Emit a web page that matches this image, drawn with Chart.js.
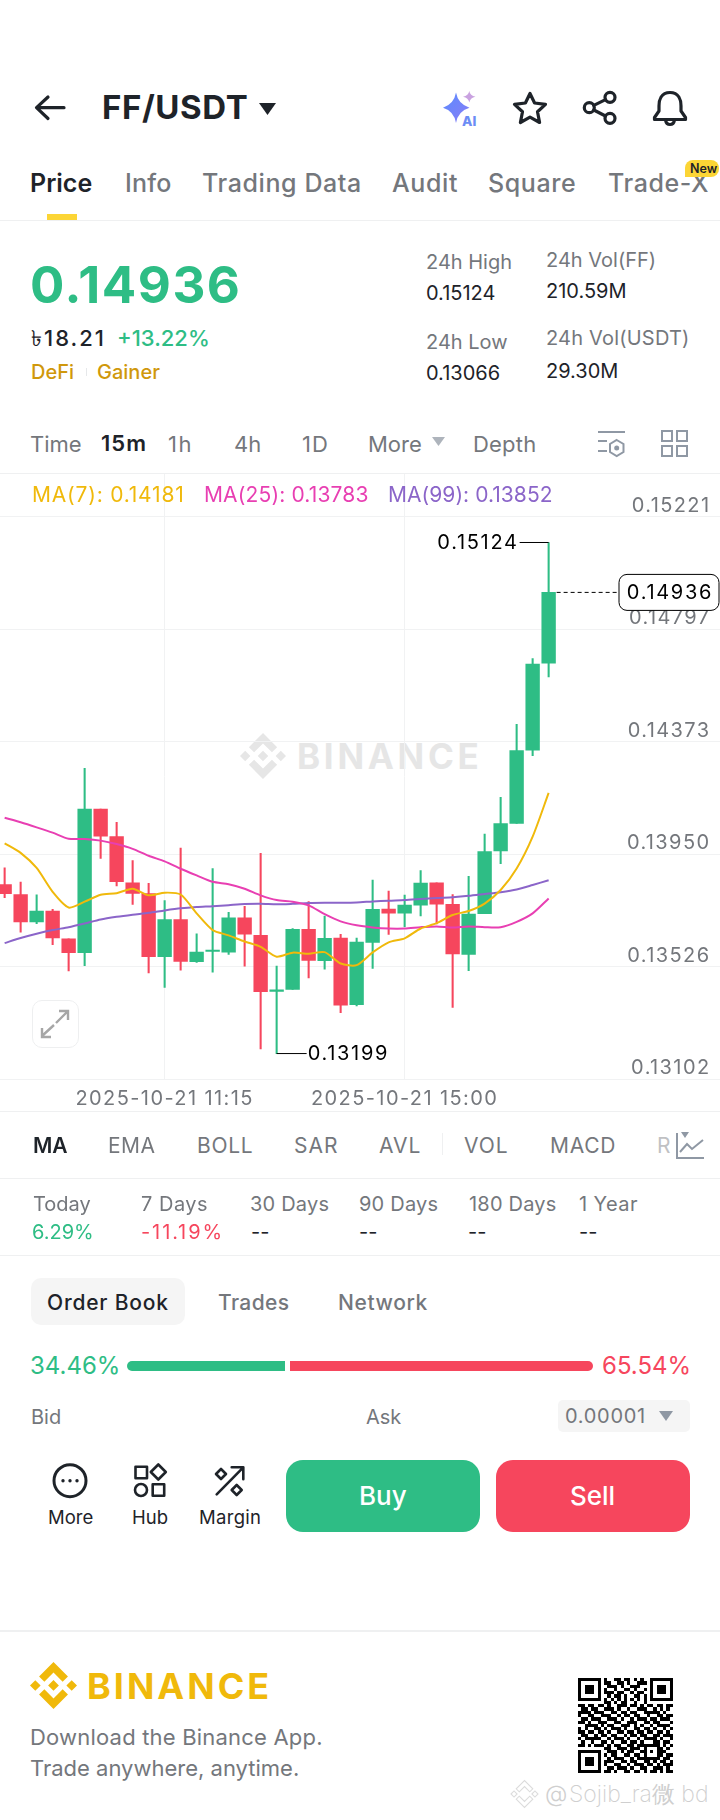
<!DOCTYPE html>
<html>
<head>
<meta charset="utf-8">
<title>FF/USDT</title>
<script src="https://cdn.jsdelivr.net/npm/chart.js@4/dist/chart.umd.min.js"></script>
<style>
    html, body { margin: 0; padding: 0; background: #fff; }
    body { position: relative; width: 720px; height: 1820px; overflow: hidden; font-family: Inter, "Noto Sans", "DejaVu Sans", sans-serif; color: #1e2329; }
    .t { position: absolute; white-space: nowrap; line-height: 1; transform: translateY(-50%); }
    .g { color: #74777c; }
    .up { color: #2ebd85; }
    .dn { color: #f6465d; }
    .hr { position: absolute; left: 0; width: 720px; height: 1px; background: #eff0f1; }
    svg { position: absolute; overflow: visible; }
    .box { position: absolute; }
    #chart { position: absolute; left: 0; top: 474px; }
</style>
</head>
<body>

<!-- header -->
<svg style="left:0;top:0" width="720" height="240" fill="none" stroke="#1e2329" stroke-width="3.2" stroke-linecap="round" stroke-linejoin="round">
    <path d="M64 107.7H37M48 97L36.5 107.7L48 118.5"/>
    <path d="M259 103H276L267.5 115Z" fill="#1e2329" stroke="none"/>
    <defs><linearGradient id="ai" x1="0" y1="0" x2="1" y2="1"><stop offset="0" stop-color="#5a8cff"/><stop offset="1" stop-color="#8a7cf5"/></linearGradient></defs>
    <path d="M456 92.5Q458 104 469.5 107.7Q458 111 456 123Q454 111 443 107.7Q454 104 456 92.5Z" fill="url(#ai)" stroke="none"/>
    <path d="M469.3 91Q470 95.5 475.5 96.7Q470 98 469.3 102.5Q468.5 98 463 96.7Q468.5 95.5 469.3 91Z" fill="#c9a2e0" stroke="none"/>
    <text x="462" y="126" font-size="13.5" font-weight="800" fill="#6c8df5" stroke="none" font-family="Inter">AI</text>
    <path d="M530 93.5L534.6 103L545.5 104.4L537.5 111.7L539.6 122.5L530 117.2L520.4 122.5L522.5 111.7L514.5 104.4L525.4 103Z"/>
    <circle cx="589.3" cy="107.7" r="5"/><circle cx="610" cy="97.3" r="5"/><circle cx="610" cy="118.3" r="5"/>
    <path d="M593.8 105.4L605.5 99.6M593.8 110L605.5 116"/>
    <path d="M670 92.5C661 92.5 659 100 659 106V111L654.5 117.5V119.5H685.5V117.5L681 111V106C681 100 679 92.5 670 92.5Z"/>
    <path d="M665.5 120C666 123 668 124.5 670 124.5C672 124.5 674 123 674.5 120"/>
</svg>
<span class="t" style="left:102px;top:107px;font-size:33px;font-weight:700;letter-spacing:.6px">FF/USDT</span>

<span class="t" style="left:30px;top:183px;font-size:25px;font-weight:600">Price</span>
<span class="t g" style="left:125px;top:183px;font-size:25px;font-weight:500;letter-spacing:.2px">Info</span>
<span class="t g" style="left:202px;top:183px;font-size:25px;font-weight:500;letter-spacing:.6px">Trading Data</span>
<span class="t g" style="left:392px;top:183px;font-size:25px;font-weight:500;letter-spacing:.6px">Audit</span>
<span class="t g" style="left:488px;top:183px;font-size:25px;font-weight:500;letter-spacing:.6px">Square</span>
<span class="t g" style="left:608px;top:183px;font-size:25px;font-weight:500;letter-spacing:.6px">Trade-X</span>
<div class="box" style="left:685px;top:160px;width:34px;height:17px;border-radius:8px 8px 8px 0;background:#fcd535"></div>
<span class="t" style="left:690px;top:168.5px;font-size:12.5px;font-weight:600">New</span>
<div class="box" style="left:47px;top:214px;width:30px;height:6px;background:#fcd535"></div>
<div class="hr" style="top:220px"></div>

<!-- price block -->
<span class="t up" style="left:30px;top:283.5px;font-size:51px;font-weight:700;letter-spacing:1.5px">0.14936</span>
<span class="t" style="left:31px;top:338px;font-size:22px;font-weight:500;letter-spacing:2px">৳18.21</span>
<span class="t up" style="left:117px;top:338px;font-size:22px;font-weight:500">+13.22%</span>
<span class="t" style="left:31px;top:372px;font-size:20px;font-weight:500;color:#d0980b">DeFi</span>
<div class="box" style="left:86px;top:368px;width:1px;height:8px;background:#e6e8ea"></div>
<span class="t" style="left:97px;top:372px;font-size:20px;font-weight:500;color:#d0980b">Gainer</span>
<span class="t g" style="left:426px;top:262px;font-size:20px">24h High</span>
<span class="t" style="left:426px;top:293px;font-size:20px">0.15124</span>
<span class="t g" style="left:546px;top:260px;font-size:20px">24h Vol(FF)</span>
<span class="t" style="left:546px;top:291px;font-size:20px">210.59M</span>
<span class="t g" style="left:426px;top:342px;font-size:20px">24h Low</span>
<span class="t" style="left:426px;top:373px;font-size:20px">0.13066</span>
<span class="t g" style="left:546px;top:338px;font-size:20px;letter-spacing:.2px">24h Vol(USDT)</span>
<span class="t" style="left:546px;top:371px;font-size:20px">29.30M</span>

<!-- interval row -->
<span class="t g" style="left:30px;top:444px;font-size:22px">Time</span>
<span class="t" style="left:101px;top:443px;font-size:22px;font-weight:600;letter-spacing:1px">15m</span>
<span class="t g" style="left:168px;top:444px;font-size:22px;letter-spacing:1.5px">1h</span>
<span class="t g" style="left:234px;top:444px;font-size:22px">4h</span>
<span class="t g" style="left:302px;top:444px;font-size:22px;letter-spacing:1px">1D</span>
<span class="t g" style="left:368px;top:444px;font-size:22px">More</span>
<span class="t g" style="left:473px;top:444px;font-size:22px;letter-spacing:.2px">Depth</span>
<svg style="left:0;top:420px" width="720" height="50" fill="none" stroke="#8f98a4" stroke-width="2">
    <path d="M432 17H445L438.5 26Z" fill="#aeb4bc" stroke="none"/>
    <path d="M598 12H625M598 21H607M598 31H607"/>
    <path d="M616.7 20L623.5 24V32L616.7 36L610 32V24Z"/>
    <circle cx="616.7" cy="28" r="1.5" fill="#8f98a4"/>
    <rect x="662" y="11" width="10" height="10"/><rect x="677" y="11" width="10" height="10"/>
    <rect x="662" y="26" width="10" height="10"/><rect x="677" y="26" width="10" height="10"/>
</svg>
<div class="hr" style="top:473px"></div>

<!-- chart watermark, under the transparent canvas -->
<svg style="left:240px;top:733px" width="46" height="46" viewBox="0 0 126.61 126.61" fill="#e6e6e6">
    <path d="M38.73 53.2l24.59-24.58 24.6 24.6 14.3-14.31L63.32 0 24.43 38.9zM0 63.31l14.3-14.31 14.31 14.31-14.31 14.3zM38.73 73.41l24.59 24.59 24.6-24.6 14.31 14.29-38.9 38.91-38.9-38.88-.02-.02zM98 63.31l14.3-14.3 14.31 14.3-14.31 14.3z"/>
    <path d="M77.83 63.3L63.32 48.78 52.59 59.51l-1.24 1.23-2.54 2.54 14.51 14.5 14.51-14.47z"/>
</svg>
<span class="t" style="left:297px;top:756px;font-size:35px;font-weight:700;color:#e6e6e6;letter-spacing:3.7px">BINANCE</span>

<canvas id="chart" width="720" height="638"></canvas>

<span class="t" style="left:32px;top:494px;font-size:21px;color:#f0b90b;letter-spacing:.8px">MA(7): 0.14181</span>
<span class="t" style="left:204px;top:494px;font-size:21px;color:#e83fb2;letter-spacing:.15px">MA(25): 0.13783</span>
<span class="t" style="left:388px;top:494px;font-size:21px;color:#8b65c9;letter-spacing:.05px">MA(99): 0.13852</span>

<div class="box" style="left:32px;top:1000px;width:45px;height:46px;border:1.5px solid #eeeff0;border-radius:10px;background:#fff"></div>
<svg style="left:0;top:1000px" width="100" height="50" fill="none" stroke="#a6a6a6" stroke-width="2.4">
    <path d="M56 23L68 11M59 11H68V20M42 36L54 25M42 28V37H51"/>
</svg>

<div class="hr" style="top:1111px"></div>

<!-- indicator row -->
<span class="t" style="left:33px;top:1145px;font-size:21px;font-weight:600">MA</span>
<span class="t g" style="left:108px;top:1145px;font-size:21px;letter-spacing:.5px">EMA</span>
<span class="t g" style="left:197px;top:1145px;font-size:21px;letter-spacing:.7px">BOLL</span>
<span class="t g" style="left:294px;top:1145px;font-size:21px;letter-spacing:1px">SAR</span>
<span class="t g" style="left:379px;top:1145px;font-size:21px;letter-spacing:1px">AVL</span>
<div class="box" style="left:442px;top:1133px;width:1px;height:22px;background:#eff0f1"></div>
<span class="t g" style="left:464px;top:1145px;font-size:21px;letter-spacing:1px">VOL</span>
<span class="t g" style="left:550px;top:1145px;font-size:21px;letter-spacing:.7px">MACD</span>
<span class="t g" style="left:657px;top:1145px;font-size:21px;opacity:.45">R</span>
<svg style="left:0;top:1120px" width="720" height="50" fill="none" stroke="#8f98a4" stroke-width="2">
    <path d="M677 13V38H704M680 32L687 24L692 29L703 20"/>
    <path d="M681 12H689L685 18Z" fill="#8f98a4" stroke="none"/>
</svg>
<div class="hr" style="top:1178px"></div>

<!-- period returns -->
<span class="t g" style="left:33px;top:1204px;font-size:20px">Today</span>
<span class="t g" style="left:141px;top:1204px;font-size:20px;letter-spacing:.5px">7 Days</span>
<span class="t g" style="left:250px;top:1204px;font-size:20px;letter-spacing:.2px">30 Days</span>
<span class="t g" style="left:359px;top:1204px;font-size:20px;letter-spacing:.2px">90 Days</span>
<span class="t g" style="left:469px;top:1204px;font-size:20px;letter-spacing:.2px">180 Days</span>
<span class="t g" style="left:579px;top:1204px;font-size:20px;letter-spacing:.4px">1 Year</span>
<span class="t up" style="left:32px;top:1232px;font-size:20px">6.29%</span>
<span class="t dn" style="left:141px;top:1232px;font-size:20px;letter-spacing:1.9px">-11.19%</span>
<span class="t" style="left:251px;top:1232px;font-size:20px">--</span>
<span class="t" style="left:359px;top:1232px;font-size:20px">--</span>
<span class="t" style="left:468px;top:1232px;font-size:20px">--</span>
<span class="t" style="left:579px;top:1232px;font-size:20px">--</span>
<div class="hr" style="top:1255px"></div>

<!-- order book -->
<div class="box" style="left:31px;top:1278px;width:154px;height:47px;border-radius:10px;background:#f5f5f5"></div>
<span class="t" style="left:47px;top:1302px;font-size:21px;font-weight:500;letter-spacing:.8px">Order Book</span>
<span class="t g" style="left:218px;top:1302px;font-size:21px;font-weight:500;letter-spacing:.4px">Trades</span>
<span class="t g" style="left:338px;top:1302px;font-size:21px;font-weight:500;letter-spacing:.6px">Network</span>
<span class="t up" style="left:30px;top:1366px;font-size:24px">34.46%</span>
<div class="box" style="left:127px;top:1361px;width:158px;height:10px;background:#2ebd85;border-radius:5px 0 0 5px"></div>
<div class="box" style="left:290px;top:1361px;width:303px;height:10px;background:#f6465d;border-radius:0 5px 5px 0"></div>
<span class="t dn" style="left:602px;top:1366px;font-size:24px">65.54%</span>
<span class="t g" style="left:31px;top:1417px;font-size:20px">Bid</span>
<span class="t g" style="left:366px;top:1417px;font-size:20px">Ask</span>
<div class="box" style="left:558px;top:1400px;width:132px;height:32px;border-radius:5px;background:#f5f5f5"></div>
<span class="t g" style="left:565px;top:1416px;font-size:20px;letter-spacing:.7px">0.00001</span>
<svg style="left:0;top:1400px" width="720" height="40"><path d="M659 11H673L666 21Z" fill="#8f98a4"/></svg>

<!-- bottom actions -->
<svg style="left:0;top:1450px" width="280" height="60" fill="none" stroke="#1e2329" stroke-width="3" stroke-linejoin="round" stroke-linecap="round">
    <circle cx="70" cy="30.7" r="16"/>
    <path d="M63 30.7h.01M70 30.7h.01M77 30.7h.01" stroke-width="3.4"/>
    <rect x="135.5" y="16.7" width="11.5" height="11.5" stroke-width="2.6"/>
    <path d="M158.3 14.5L165.8 22L158.3 29.5L150.8 22Z" stroke-width="2.6"/>
    <circle cx="141" cy="40" r="6" stroke-width="2.6"/>
    <rect x="152.7" y="34.3" width="11.5" height="11.5" stroke-width="2.6"/>
    <path d="M221 19L226 24L221 29L216 24Z" stroke-width="2.6"/>
    <path d="M236.7 35L241.7 40L236.7 45L231.7 40Z" stroke-width="2.6"/>
    <path d="M216.7 44.3L243.3 17.3M231.7 17.3H243.3V29.3" stroke-width="2.6"/>
</svg>
<span class="t" style="left:48px;top:1517px;font-size:18.5px">More</span>
<span class="t" style="left:132px;top:1517px;font-size:18.5px">Hub</span>
<span class="t" style="left:199px;top:1517px;font-size:18.5px;letter-spacing:.3px">Margin</span>
<div class="box" style="left:286px;top:1460px;width:194px;height:72px;border-radius:17px;background:#2ebd85"></div>
<div class="box" style="left:496px;top:1460px;width:194px;height:72px;border-radius:17px;background:#f6465d"></div>
<span class="t" style="left:359px;top:1496px;font-size:26px;font-weight:500;color:#fff">Buy</span>
<span class="t" style="left:570px;top:1496px;font-size:26px;font-weight:500;color:#fff">Sell</span>

<!-- footer -->
<div class="hr" style="top:1630px;height:2px"></div>
<svg style="left:30px;top:1662px" width="47" height="47" viewBox="0 0 126.61 126.61" fill="#f0b90b">
    <path d="M38.73 53.2l24.59-24.58 24.6 24.6 14.3-14.31L63.32 0 24.43 38.9zM0 63.31l14.3-14.31 14.31 14.31-14.31 14.3zM38.73 73.41l24.59 24.59 24.6-24.6 14.31 14.29-38.9 38.91-38.9-38.88-.02-.02zM98 63.31l14.3-14.3 14.31 14.3-14.31 14.3z"/>
    <path d="M77.83 63.3L63.32 48.78 52.59 59.51l-1.24 1.23-2.54 2.54 14.51 14.5 14.51-14.47z"/>
</svg>
<span class="t" style="left:87px;top:1686px;font-size:36px;font-weight:700;color:#f0b90b;letter-spacing:3px">BINANCE</span>
<span class="t g" style="left:30px;top:1737px;font-size:22px;letter-spacing:.2px">Download the Binance App.</span>
<span class="t g" style="left:30px;top:1768px;font-size:22px">Trade anywhere, anytime.</span>
<svg id="qr" style="left:578px;top:1678px" width="95" height="95" viewBox="0 0 29 29" shape-rendering="crispEdges"></svg>

<svg style="left:511px;top:1780px" width="27" height="28" viewBox="0 0 126.61 126.61" fill="none" stroke="#dcdcdc" stroke-width="5">
    <path d="M38.73 53.2l24.59-24.58 24.6 24.6 14.3-14.31L63.32 0 24.43 38.9zM0 63.31l14.3-14.31 14.31 14.31-14.31 14.3zM38.73 73.41l24.59 24.59 24.6-24.6 14.31 14.29-38.9 38.91-38.9-38.88-.02-.02zM98 63.31l14.3-14.3 14.31 14.3-14.31 14.3z"/>
</svg>
<span class="t" style="left:545px;top:1794px;font-size:23px;font-weight:300;color:#cfcfcf">@</span>
<span class="t" style="left:569px;top:1794px;font-size:23px;font-weight:200;color:#cfcfcf">Sojib_ra微 bd</span>

<script>
    const categories = [
        "2025-10-21 08:45", "2025-10-21 09:00", "2025-10-21 09:15", "2025-10-21 09:30", "2025-10-21 09:45",
        "2025-10-21 10:00", "2025-10-21 10:15", "2025-10-21 10:30", "2025-10-21 10:45", "2025-10-21 11:00",
        "2025-10-21 11:15", "2025-10-21 11:30", "2025-10-21 11:45", "2025-10-21 12:00", "2025-10-21 12:15",
        "2025-10-21 12:30", "2025-10-21 12:45", "2025-10-21 13:00", "2025-10-21 13:15", "2025-10-21 13:30",
        "2025-10-21 13:45", "2025-10-21 14:00", "2025-10-21 14:15", "2025-10-21 14:30", "2025-10-21 14:45",
        "2025-10-21 15:00", "2025-10-21 15:15", "2025-10-21 15:30", "2025-10-21 15:45", "2025-10-21 16:00",
        "2025-10-21 16:15", "2025-10-21 16:30", "2025-10-21 16:45", "2025-10-21 17:00", "2025-10-21 17:15"
    ];

    const opens = [0.13835, 0.13798, 0.13695, 0.13736, 0.13631, 0.13579, 0.14120, 0.14016, 0.13842, 0.13802,
        0.13564, 0.13704, 0.13545, 0.13584, 0.13581, 0.13710, 0.13644, 0.13433, 0.13441, 0.13667,
        0.13549, 0.13634, 0.13383, 0.13618, 0.13743, 0.13728, 0.13758, 0.13842, 0.13761, 0.13572,
        0.13726, 0.13962, 0.14066, 0.14342, 0.14669];
    const closes = [0.13801, 0.13695, 0.13736, 0.13635, 0.13579, 0.14120, 0.14018, 0.13846, 0.13802, 0.13564,
        0.13704, 0.13546, 0.13581, 0.13589, 0.13710, 0.13649, 0.13432, 0.13439, 0.13667, 0.13550,
        0.13633, 0.13381, 0.13619, 0.13742, 0.13728, 0.13758, 0.13841, 0.13762, 0.13574, 0.13724,
        0.13960, 0.14065, 0.14340, 0.14666, 0.14936];
    const highs = [0.13899, 0.13845, 0.13797, 0.13742, 0.13631, 0.14273, 0.14120, 0.14070, 0.13926, 0.13840,
        0.13775, 0.13973, 0.13650, 0.13896, 0.13731, 0.13754, 0.13953, 0.13528, 0.13670, 0.13771,
        0.13717, 0.13648, 0.13634, 0.13852, 0.13811, 0.13796, 0.13888, 0.13842, 0.13798, 0.13867,
        0.14026, 0.14164, 0.14439, 0.14687, 0.15124];
    const lows = [0.13786, 0.13656, 0.13688, 0.13609, 0.13510, 0.13530, 0.13934, 0.13830, 0.13761, 0.13503,
        0.13448, 0.13513, 0.13542, 0.13506, 0.13572, 0.13528, 0.13216, 0.13199, 0.13441, 0.13484,
        0.13517, 0.13353, 0.13378, 0.13520, 0.13648, 0.13677, 0.13717, 0.13687, 0.13373, 0.13511,
        0.13726, 0.13914, 0.14066, 0.14321, 0.14618];

    const ma7 = [0.13991, 0.13955, 0.13898, 0.13808, 0.13749, 0.13771, 0.13797, 0.13803, 0.13820, 0.13795,
        0.13805, 0.13798, 0.13727, 0.13664, 0.13644, 0.13621, 0.13601, 0.13564, 0.13579, 0.13575,
        0.13581, 0.13538, 0.13532, 0.13580, 0.13618, 0.13633, 0.13670, 0.13690, 0.13721, 0.13736,
        0.13764, 0.13815, 0.13896, 0.14016, 0.14181];
    const ma25 = [0.14087, 0.14070, 0.14051, 0.14031, 0.14008, 0.14007, 0.14001, 0.13988, 0.13970, 0.13944,
        0.13923, 0.13895, 0.13870, 0.13846, 0.13837, 0.13820, 0.13795, 0.13777, 0.13771, 0.13757,
        0.13724, 0.13697, 0.13682, 0.13674, 0.13670, 0.13670, 0.13675, 0.13678, 0.13674, 0.13678,
        0.13675, 0.13675, 0.13695, 0.13727, 0.13783];
    const ma99 = [0.13615, 0.13634, 0.13650, 0.13664, 0.13675, 0.13689, 0.13704, 0.13714, 0.13722, 0.13729,
        0.13738, 0.13746, 0.13751, 0.13754, 0.13758, 0.13762, 0.13763, 0.13761, 0.13763, 0.13766,
        0.13767, 0.13767, 0.13768, 0.13772, 0.13775, 0.13777, 0.13781, 0.13785, 0.13788, 0.13793,
        0.13800, 0.13807, 0.13817, 0.13834, 0.13852];

    const yTicks = [0.13102, 0.13526, 0.13950, 0.14373, 0.14797, 0.15221];
    const xTicks = [10, 25];
    const lastPrice = 0.14936;

    const green = "#2ebd85";
    const red = "#f6465d";
    const gridColor = "#f1f2f3";
    const tickColor = "#74777c";
    const fontName = 'Inter, "Noto Sans", sans-serif';

    const candleColors = closes.map((c, i) => (c >= opens[i] ? green : red));

    // bar datasets overlap, wick underneath the body
    const wicks = categories.map((_, i) => ({ x: i, y: [lows[i], highs[i]] }));
    const bodies = categories.map((_, i) => ({ x: i, y: [opens[i], closes[i]] }));

    function maLine(label, values, color) {
        return {
            type: "line",
            label: label,
            data: values.map((v, i) => ({ x: i, y: v })),
            borderColor: color,
            borderWidth: 2,
            pointRadius: 0,
            tension: 0.25,
            order: 1,
        };
    }

    // high, low and last price marks
    const priceMarks = {
        id: "priceMarks",
        beforeDraw(chart) {
            chart.ctx.letterSpacing = "1.4px"; // canvas text comes out narrower than the picture
        },
        afterDatasetsDraw(chart) {
            const { ctx, scales: { x, y } } = chart;
            const hiIdx = highs.indexOf(Math.max(...highs));
            const loIdx = lows.indexOf(Math.min(...lows));
            ctx.save();
            ctx.font = "20px " + fontName;
            ctx.textBaseline = "middle";
            ctx.fillStyle = "#000";
            ctx.strokeStyle = "#000";
            ctx.lineWidth = 1;
            ctx.letterSpacing = "1.7px";

            const hx = x.getPixelForValue(hiIdx);
            const hy = y.getPixelForValue(highs[hiIdx]);
            ctx.beginPath();
            ctx.moveTo(hx, hy);
            ctx.lineTo(hx - 29, hy);
            ctx.stroke();
            ctx.textAlign = "right";
            ctx.fillText(highs[hiIdx].toFixed(5), hx - 30, hy);

            const lx = x.getPixelForValue(loIdx);
            const ly = y.getPixelForValue(lows[loIdx]);
            ctx.beginPath();
            ctx.moveTo(lx, ly);
            ctx.lineTo(lx + 30, ly);
            ctx.stroke();
            ctx.textAlign = "left";
            ctx.fillText(lows[loIdx].toFixed(5), lx + 31, ly);

            const px = x.getPixelForValue(categories.length - 1);
            const py = y.getPixelForValue(lastPrice);
            ctx.setLineDash([4, 3]);
            ctx.beginPath();
            ctx.moveTo(px + 8, py);
            ctx.lineTo(617, py);
            ctx.stroke();
            ctx.setLineDash([]);
            ctx.beginPath();
            ctx.roundRect(619, py - 18, 100, 36, 8);
            ctx.fillStyle = "#fff";
            ctx.fill();
            ctx.stroke();
            ctx.fillStyle = "#000";
            ctx.textAlign = "center";
            ctx.fillText(lastPrice.toFixed(5), 670, py + 0.5);
            ctx.restore();
        },
    };

    new Chart(document.getElementById("chart"), {
        type: "bar",
        data: {
            datasets: [
                maLine("MA(7)", ma7, "#f0b90b"),
                maLine("MA(25)", ma25, "#e83fb2"),
                maLine("MA(99)", ma99, "#8b65c9"),
                {
                    label: "Body",
                    data: bodies,
                    backgroundColor: candleColors,
                    barThickness: 13.7,
                    grouped: false,
                    order: 2,
                },
                {
                    label: "Wick",
                    data: wicks,
                    backgroundColor: candleColors,
                    barThickness: 1.4,
                    grouped: false,
                    order: 3,
                },
            ],
        },
        options: {
            responsive: false,
            animation: false,
            events: [],
            layout: { padding: 0 },
            plugins: { legend: { display: false }, tooltip: { enabled: false } },
            scales: {
                x: {
                    type: "linear",
                    min: -0.29,
                    max: 44.71,
                    offset: false,
                    afterBuildTicks: (scale) => { scale.ticks = xTicks.map((v) => ({ value: v })); },
                    afterFit: (scale) => {
                        scale.height = 32.7;
                        scale.paddingLeft = 0;
                        scale.paddingRight = 0;
                    },
                    grid: { color: gridColor, offset: false, drawTicks: false },
                    border: { display: false },
                    ticks: {
                        autoSkip: false,
                        maxRotation: 0,
                        padding: 8,
                        color: tickColor,
                        font: { family: fontName, size: 20 },
                        callback: (value) => categories[value],
                    },
                },
                y: {
                    position: "right",
                    min: 0.13102,
                    max: 0.15382,
                    afterBuildTicks: (scale) => { scale.ticks = yTicks.map((v) => ({ value: v })); },
                    afterFit: (scale) => {
                        scale.width = 0;
                        scale.paddingTop = 0;
                        scale.paddingBottom = 0;
                    },
                    grid: { color: gridColor, drawTicks: false },
                    border: { display: false },
                    ticks: {
                        mirror: true,
                        padding: -9.5,
                        labelOffset: -11,
                        color: tickColor,
                        font: { family: fontName, size: 20 },
                        callback: (value) => value.toFixed(5),
                    },
                },
            },
        },
        plugins: [priceMarks],
    });

    // download code
    const qrRows = [
        "11111110100110110101001111111",
        "10000010110011010011101000001",
        "10111010011101001110001011101",
        "10111010100100110100101011101",
        "10111010111011001011001011101",
        "10000010010110100110101000001",
        "11111110101010101010101111111",
        "00000000110101100100100000000",
        "11011011010011101101011011011",
        "01101100111010010011100101010",
        "11110111001101101100111110100",
        "10011001110010110110010011011",
        "01101110011101001011101101110",
        "11010011100110011100110110001",
        "00111101011001110101001011110",
        "10100110101110100110110100101",
        "11011011010011011011011011010",
        "01100101101100101101100110111",
        "10111110010111010010111101001",
        "01001001101001101101000110110",
        "11010111010110011011111110101",
        "00000000110011101110100011010",
        "11111110011101011001101011100",
        "10000010101100110110100011011",
        "10111010010111001011111110110",
        "10111010111001101100110101101",
        "10111010100110010111011010111",
        "10000010011011101001100111010",
        "11111110110100110110101101011",
    ];
    let qrPath = "";
    qrRows.forEach((row, r) => {
        [...row].forEach((cell, c) => {
            if (cell === "1") qrPath += `M${c} ${r}h1v1h-1z`;
        });
    });
    document.getElementById("qr").innerHTML = `<path d="${qrPath}" fill="#000"/>`;
</script>
</body>
</html>
